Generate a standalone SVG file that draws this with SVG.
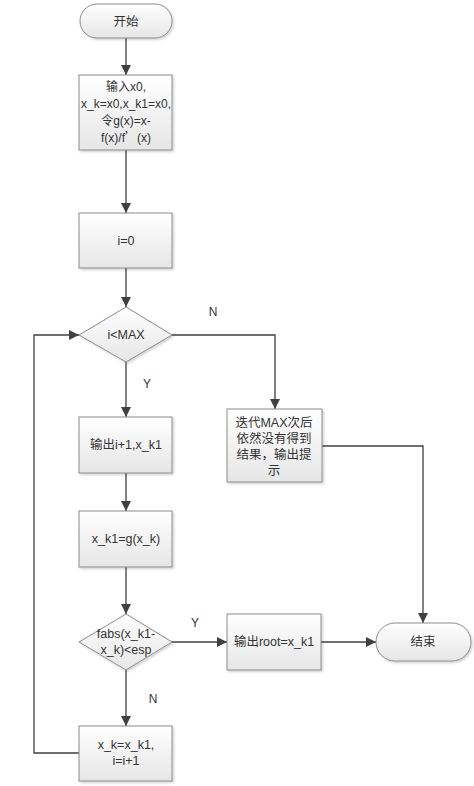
<svg xmlns="http://www.w3.org/2000/svg" width="474" height="786" viewBox="0 0 474 786">
<defs>
<linearGradient id="g" x1="0" y1="0" x2="0" y2="1">
<stop offset="0" stop-color="#ffffff"/>
<stop offset="1" stop-color="#e6e6e6"/>
</linearGradient>
<filter id="sh" x="-10%" y="-10%" width="130%" height="130%">
<feDropShadow dx="1.5" dy="1.5" stdDeviation="1" flood-color="#000" flood-opacity="0.18"/>
</filter>
<marker id="ar" viewBox="0 0 10 10" refX="10" refY="5" markerWidth="10" markerHeight="10" markerUnits="userSpaceOnUse" orient="auto">
<path d="M0,0 L10,5 L0,10 Z" fill="#404040"/>
</marker>
</defs>
<style>
.n{fill:url(#g);stroke:#8c8c8c;stroke-width:1;filter:url(#sh)}
.t{font-family:"Liberation Sans","Noto Sans CJK SC",sans-serif;font-size:12.5px;fill:#333;text-anchor:middle}
.s{font-size:12px}
.l{font-family:"Liberation Sans",sans-serif;font-size:12px;fill:#333;text-anchor:middle}
.c{fill:none;stroke:#404040;stroke-width:1.3}
</style>
<rect width="474" height="786" fill="#fff"/>
<g id="connectors">
<line class="c" x1="126" y1="38" x2="126" y2="75" marker-end="url(#ar)"/>
<line class="c" x1="126" y1="150" x2="126" y2="213" marker-end="url(#ar)"/>
<line class="c" x1="126" y1="268" x2="126" y2="307" marker-end="url(#ar)"/>
<polyline class="c" points="172,335 275,335 275,409" marker-end="url(#ar)"/>
<line class="c" x1="126" y1="362" x2="126" y2="417" marker-end="url(#ar)"/>
<line class="c" x1="126" y1="473" x2="126" y2="511" marker-end="url(#ar)"/>
<line class="c" x1="126" y1="567" x2="126" y2="614" marker-end="url(#ar)"/>
<line class="c" x1="172" y1="642" x2="227" y2="642" marker-end="url(#ar)"/>
<line class="c" x1="321" y1="642" x2="376" y2="642" marker-end="url(#ar)"/>
<polyline class="c" points="322,446 423,446 423,623" marker-end="url(#ar)"/>
<line class="c" x1="126" y1="670" x2="126" y2="726" marker-end="url(#ar)"/>
<polyline class="c" points="79,753 34,753 34,335 79,335" marker-end="url(#ar)"/>
<text class="l" x="213" y="316">N</text>
<text class="l" x="147" y="388">Y</text>
<text class="l" x="195" y="627">Y</text>
<text class="l" x="153" y="703">N</text>
</g>
<g id="start">
<rect class="n" x="80" y="4" width="92" height="34" rx="17"/>
<text class="t" x="126" y="26">开始</text>
</g>
<g id="init">
<rect class="n" x="79" y="75" width="93" height="75"/>
<text class="t s" x="126" y="91">输入x0,</text>
<text class="t s" x="126" y="108">x_k=x0,x_k1=x0,</text>
<text class="t s" x="126" y="125">令g(x)=x-</text>
<text class="t s" x="126" y="142">f(x)/f<tspan font-family="Noto Sans CJK SC">’</tspan>(x)</text>
</g>
<g id="i0">
<rect class="n" x="79" y="213" width="93" height="55"/>
<text class="t" x="126" y="245">i=0</text>
</g>
<g id="cond1">
<polygon class="n" points="126,307 172,335 126,362 79,335"/>
<text class="t" x="126" y="339">i&lt;MAX</text>
</g>
<g id="fail">
<rect class="n" x="227" y="409" width="95" height="73"/>
<text class="t" x="274" y="427">迭代MAX次后</text>
<text class="t" x="274" y="443">依然没有得到</text>
<text class="t" x="274" y="459">结果，输出提</text>
<text class="t" x="274" y="475">示</text>
</g>
<g id="out1">
<rect class="n" x="79" y="417" width="93" height="56"/>
<text class="t" x="126" y="449">输出i+1,x_k1</text>
</g>
<g id="iter">
<rect class="n" x="79" y="511" width="93" height="56"/>
<text class="t" x="126" y="543">x_k1=g(x_k)</text>
</g>
<g id="cond2">
<polygon class="n" points="126,614 172,642 126,670 79,642"/>
<text class="t" x="126" y="638">fabs(x_k1-</text>
<text class="t" x="126" y="654">x_k)&lt;esp</text>
</g>
<g id="outroot">
<rect class="n" x="227" y="614" width="94" height="56"/>
<text class="t" x="274" y="646">输出root=x_k1</text>
</g>
<g id="end">
<rect class="n" x="376" y="623" width="95" height="38" rx="19"/>
<text class="t" x="423" y="646">结束</text>
</g>
<g id="update">
<rect class="n" x="79" y="726" width="93" height="55"/>
<text class="t" x="126" y="749">x_k=x_k1,</text>
<text class="t" x="126" y="765">i=i+1</text>
</g>
</svg>
